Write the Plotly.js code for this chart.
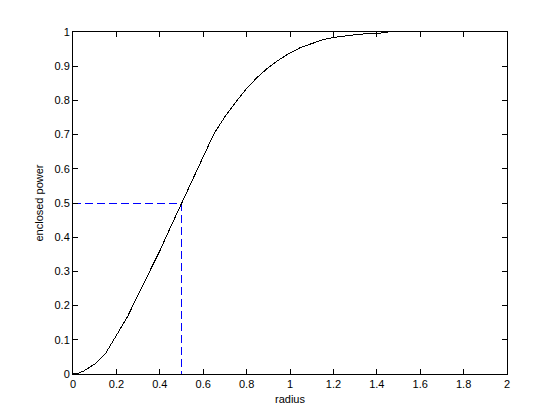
<!DOCTYPE html>
<html>
<head>
<meta charset="utf-8">
<script src="https://cdn.plot.ly/plotly-3.0.1.min.js"></script>
<style>html,body{margin:0;padding:0;background:#fff;}#chart{width:560px;height:420px;}
#chart path.js-line{shape-rendering:crispEdges;}</style>
</head>
<body>
<div id="chart"></div>
<script>
// enclosed power curve
const radius = [0, 0.025, 0.05, 0.1, 0.15, 0.2, 0.25, 0.3, 0.35, 0.4, 0.45, 0.5, 0.55, 0.6, 0.65, 0.7, 0.75, 0.8, 0.85, 0.9, 0.95, 1.0, 1.05, 1.1, 1.15, 1.2, 1.25, 1.3, 1.35, 1.4, 1.45];
const enclosedPower = [0, 0.002, 0.009, 0.029, 0.06, 0.112, 0.166, 0.232, 0.297, 0.36, 0.43, 0.5, 0.568, 0.635, 0.703, 0.752, 0.795, 0.835, 0.868, 0.896, 0.919, 0.939, 0.955, 0.967, 0.977, 0.984, 0.989, 0.992, 0.995, 0.997, 0.998];
// half-power marker
const markerX = [0, 0.5, 0.5];
const markerY = [0.5, 0.5, 0];
const xTicks = [0, 0.2, 0.4, 0.6, 0.8, 1, 1.2, 1.4, 1.6, 1.8, 2];
const yTicks = [0, 0.1, 0.2, 0.3, 0.4, 0.5, 0.6, 0.7, 0.8, 0.9, 1];

const font = {family: 'Liberation Sans, Arial, sans-serif', size: 11, color: '#000'};

const traces = [
  {x: markerX, y: markerY, mode: 'lines', line: {color: '#0000ff', width: 1, dash: '8px,4px'}, hoverinfo: 'skip'},
  {x: radius, y: enclosedPower, mode: 'lines', line: {color: '#000', width: 1}}
];

const axisCommon = {
  showline: true, linecolor: '#000', linewidth: 1, mirror: 'ticks',
  ticks: 'inside', ticklen: 5, tickwidth: 1, tickcolor: '#000',
  showgrid: false, zeroline: false, tickfont: font
};

const layout = {
  width: 560, height: 420,
  margin: {l: 73, r: 53, t: 32, b: 46},
  paper_bgcolor: '#fff', plot_bgcolor: '#fff',
  showlegend: false,
  font: font,
  xaxis: Object.assign({}, axisCommon, {
    range: [0, 2], tickmode: 'array', tickvals: xTicks,
    title: {text: 'radius', font: font, standoff: 6}
  }),
  yaxis: Object.assign({}, axisCommon, {
    range: [0, 1], tickmode: 'array', tickvals: yTicks,
    title: {text: 'enclosed power', font: font, standoff: 8}
  })
};

Plotly.newPlot('chart', traces, layout, {staticPlot: true, displayModeBar: false});
</script>
</body>
</html>
